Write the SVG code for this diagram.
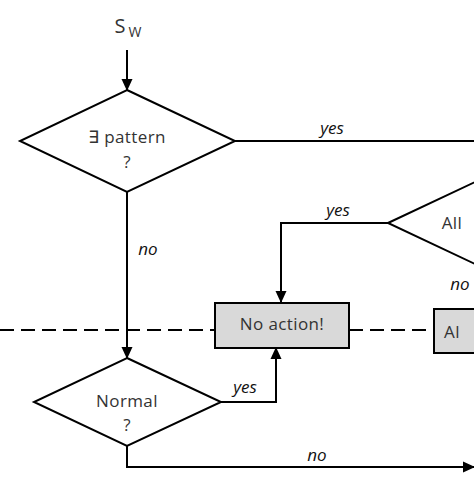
<svg xmlns="http://www.w3.org/2000/svg" width="474" height="481" viewBox="0 0 474 481">
<style>
.shape{fill:#fff;stroke:#000;stroke-width:2}
.box{fill:#d9d9d9;stroke:#000;stroke-width:2}
.t{font-family:"Open Sans","DejaVu Sans",sans-serif;font-size:17px;letter-spacing:0.4px;fill:#333;text-anchor:middle}
.lbl{font-family:"Open Sans","DejaVu Sans",sans-serif;font-size:17px;font-style:italic;fill:#111;text-anchor:middle}
.edge{fill:none;stroke:#000;stroke-width:2}
.dash{fill:none;stroke:#000;stroke-width:2;stroke-dasharray:14,7}
</style>
<defs>
<marker id="ah" markerWidth="12" markerHeight="12" refX="11" refY="6" orient="auto" markerUnits="userSpaceOnUse">
<path d="M0,0.5 L12,6 L0,11.5 z" fill="#000"/>
</marker>
</defs>
<rect width="474" height="481" fill="#fff"/>
<g id="divider">
<line class="dash" x1="0" y1="330" x2="215" y2="330"/>
<line class="dash" x1="349" y1="330" x2="434" y2="330"/>
</g>
<g id="start">
<text x="120" y="33" font-family="'Open Sans','DejaVu Sans',sans-serif" font-size="20" fill="#333" text-anchor="middle">S</text>
<text x="135" y="37" font-family="'Open Sans','DejaVu Sans',sans-serif" font-size="14" fill="#333" text-anchor="middle">W</text>
</g>
<g id="connectors">
<line class="edge" x1="127" y1="50" x2="127" y2="90" marker-end="url(#ah)"/>
<line class="edge" x1="235" y1="141" x2="474" y2="141"/>
<polyline class="edge" points="388,223 281,223 281,302" marker-end="url(#ah)"/>
<line class="edge" x1="127" y1="192" x2="127" y2="358" marker-end="url(#ah)"/>
<polyline class="edge" points="221,402 276,402 276,348" marker-end="url(#ah)"/>
<polyline class="edge" points="127,446 127,467 474,467" marker-end="url(#ah)"/>
</g>
<g id="labels">
<text class="lbl" x="332" y="134">yes</text>
<text class="lbl" x="338" y="216">yes</text>
<text class="lbl" x="148" y="255">no</text>
<text class="lbl" x="245" y="393">yes</text>
<text class="lbl" x="317" y="461">no</text>
<text class="lbl" x="460" y="290" text-anchor="start">no</text>
</g>
<g id="pattern">
<polygon class="shape" points="127,90 235,141 127,192 20,141"/>
<text class="t" x="127" y="143">∃ pattern</text>
<text class="t" x="127" y="168">?</text>
</g>
<g id="all-decision">
<polygon class="shape" points="388,223 560,142 560,304"/>
<text class="t" x="452" y="229" text-anchor="start">All</text>
</g>
<g id="no-action">
<rect class="box" x="215" y="303" width="134" height="45"/>
<text class="t" x="282" y="330" font-size="18" letter-spacing="1">No action!</text>
</g>
<g id="all-box">
<rect class="box" x="434" y="309" width="60" height="44"/>
<text class="t" x="452" y="338" text-anchor="start" font-size="18">Al</text>
</g>
<g id="normal">
<polygon class="shape" points="127,358 221,402 127,446 34,402"/>
<text class="t" x="127" y="407">Normal</text>
<text class="t" x="127" y="431">?</text>
</g>
</svg>
